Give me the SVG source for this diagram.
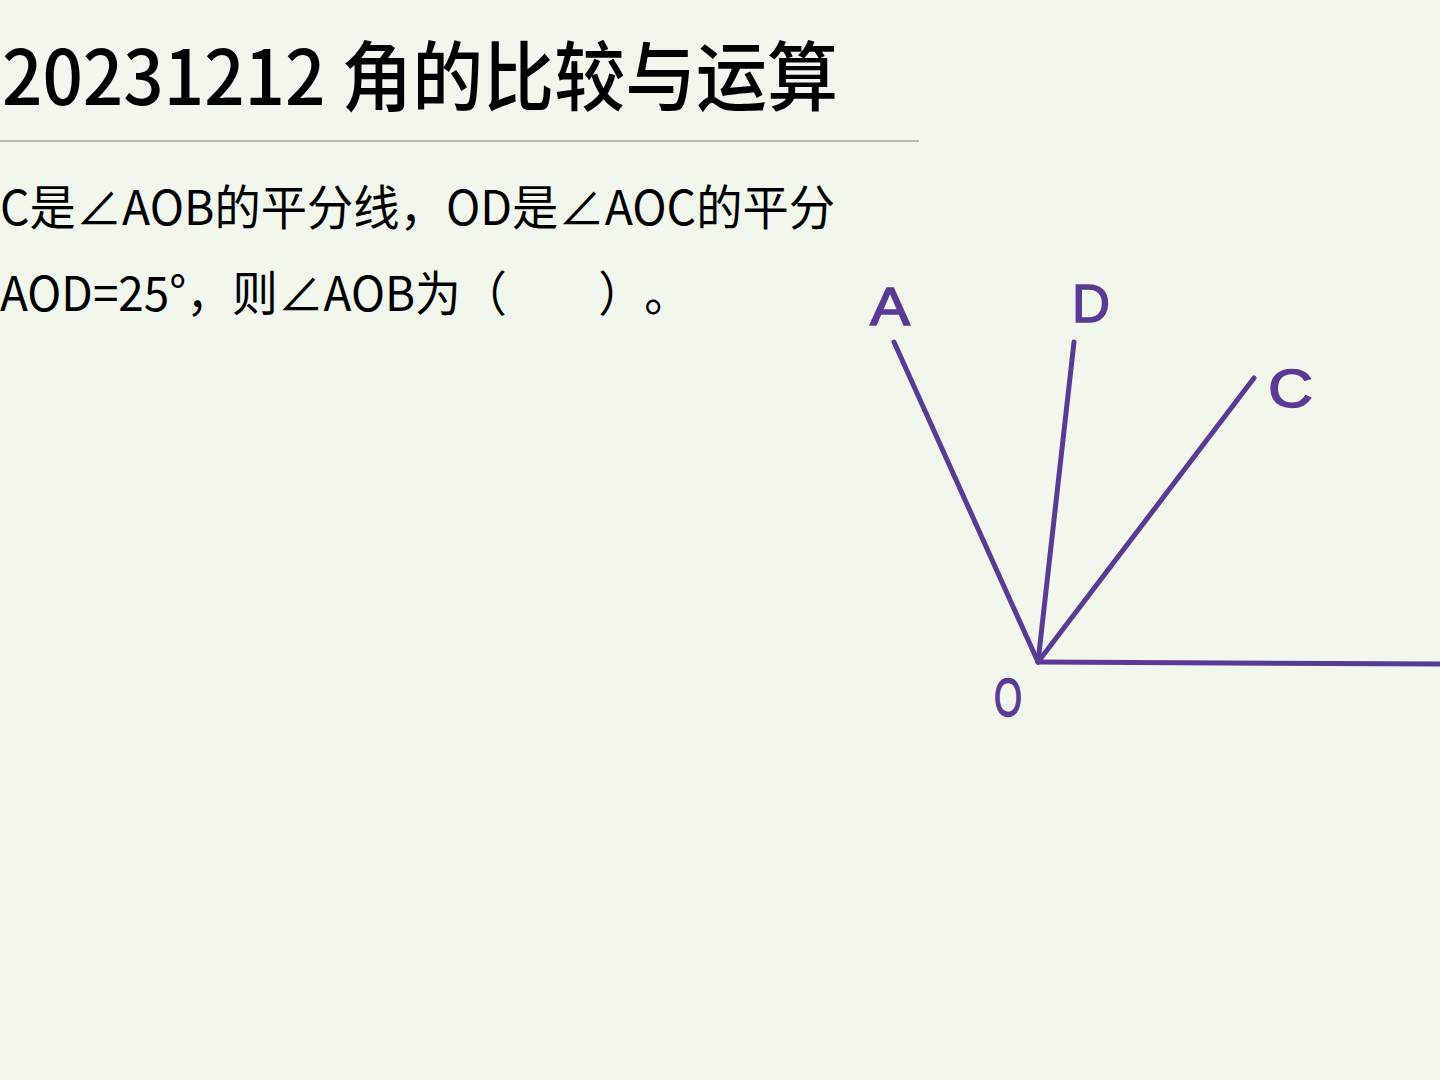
<svg xmlns="http://www.w3.org/2000/svg" width="1440" height="1080" viewBox="0 0 1440 1080">
<style>
.t{font-family:"Noto Sans CJK SC","Noto Sans",sans-serif;fill:#000;text-spacing-trim:space-all}
.ray{stroke:#5a3a94;stroke-width:5;stroke-linecap:round;fill:none}
.lbl{font-family:"Liberation Sans","Noto Sans",sans-serif;fill:#5a3a94;font-size:54px;stroke:#5a3a94;stroke-width:1.5}
</style>
<rect width="1440" height="1080" fill="#f2f7ee"/>
<g id="title">
<text class="t" x="2" y="105" font-size="76" font-weight="500" textLength="836" lengthAdjust="spacingAndGlyphs">20231212 角的比较与运算</text>
<line x1="0" y1="141" x2="919" y2="141" stroke="#a0a49c" stroke-width="1.5"/>
</g>
<g id="question">
<text class="t" x="0" y="225" font-size="48" textLength="835" lengthAdjust="spacingAndGlyphs">C是∠AOB的平分线，OD是∠AOC的平分</text>
<text class="t" x="0" y="311" font-size="48" textLength="690" lengthAdjust="spacingAndGlyphs">AOD=25°，则∠AOB为（　　）。</text>
</g>
<g id="connectors">
<line class="ray" x1="1038" y1="662" x2="894" y2="342"/>
<line class="ray" x1="1038" y1="662" x2="1074" y2="342"/>
<line class="ray" x1="1038" y1="662" x2="1254" y2="378"/>
<line class="ray" x1="1038" y1="662" x2="1440" y2="664"/>
</g>
<g id="node-A"><text class="lbl" x="870" y="325" textLength="40" lengthAdjust="spacingAndGlyphs">A</text></g>
<g id="node-D"><text class="lbl" x="1072" y="322" textLength="38" lengthAdjust="spacingAndGlyphs">D</text></g>
<g id="node-C"><text class="lbl" x="1268" y="407" textLength="45" lengthAdjust="spacingAndGlyphs">C</text></g>
<g id="node-O"><text class="lbl" x="994" y="716" textLength="28" lengthAdjust="spacingAndGlyphs">O</text></g>
</svg>
